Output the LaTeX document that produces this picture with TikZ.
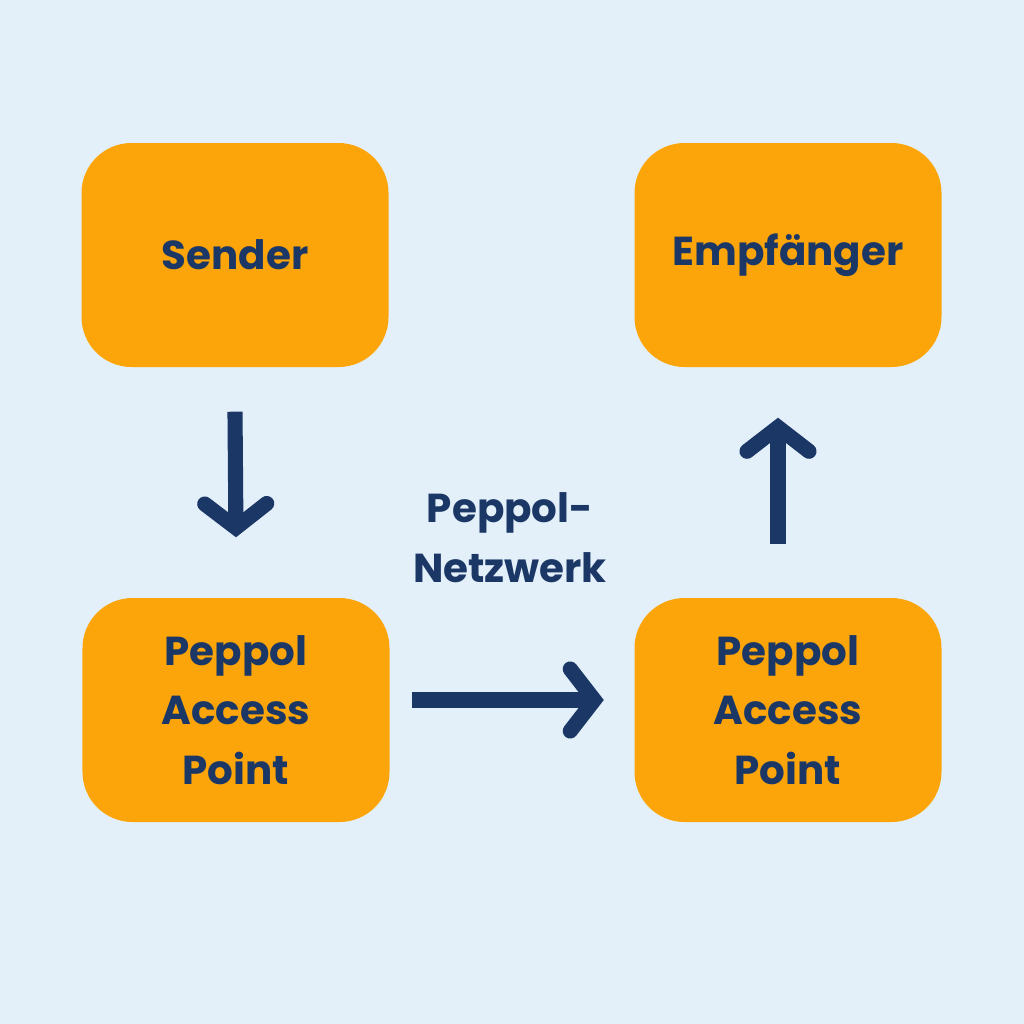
\documentclass[tikz,border=0pt]{standalone}
\usepackage{fontspec}
\setmainfont{Poppins}
\usetikzlibrary{arrows.meta}
\definecolor{bgblue}{HTML}{E3F0FA}
\definecolor{boxorange}{HTML}{FBA50A}
\definecolor{navy}{HTML}{1B3766}
\tikzstyle{party} = [rectangle, rounded corners=0.5cm, minimum width=3.07cm, minimum height=2.24cm, text centered, fill=boxorange, text=navy, font=\fontsize{11.5}{17}\selectfont\bfseries, align=center]
\tikzstyle{arrow} = [navy, line width=4.3pt, -{Straight Barb[length=0.24cm, width=0.62cm, line width=4.3pt, line cap=round]}]

\begin{document}
\begin{tikzpicture}
        \fill [bgblue] (0,0) rectangle (10.24,-10.24);
        \useasboundingbox (0,0) rectangle (10.24,-10.24);
        \node [party] at (2.35,-2.55) (sender) {Sender};
        \node [party] at (7.88,-2.55) (empf) {Empfänger};
        \node [party] at (2.36,-7.10) (apsend) {Peppol\\Access\\Point};
        \node [party] at (7.88,-7.10) (apempf) {Peppol\\Access\\Point};
        \node [text=navy, font=\fontsize{11.5}{17}\selectfont\bfseries, align=center] at (5.1,-5.38) (net) {Peppol-\\Netzwerk};
        \draw [arrow] ([yshift=-0.44cm]sender.south) -- ([yshift=0.6cm]apsend.north);
        \draw [arrow] ([xshift=0.22cm,yshift=0.1cm]apsend.east) -- ([xshift=-0.3cm,yshift=0.1cm]apempf.west);
        \draw [arrow] ([xshift=-0.1cm,yshift=0.53cm]apempf.north) -- ([xshift=-0.1cm,yshift=-0.5cm]empf.south);
        \end{tikzpicture}
\end{document}
